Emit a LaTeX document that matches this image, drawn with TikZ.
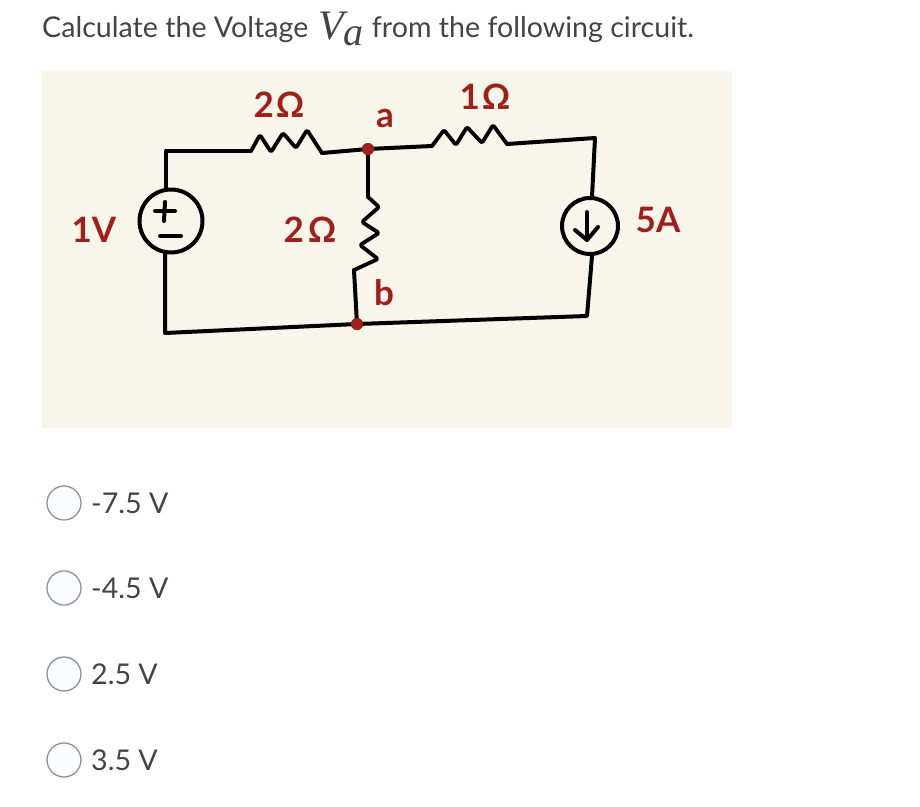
\documentclass[tikz,border=0pt]{standalone}
\usepackage{fontspec}
\setmainfont{Lato}
\newfontfamily\mathfont{Liberation Serif}[ItalicFont=Liberation Serif Italic]
\newfontfamily\handfont{Lato Bold}
\definecolor{paper}{HTML}{F8F6EA}
\definecolor{hand}{HTML}{A01F1A}
\definecolor{ink}{HTML}{444444}
\definecolor{radioline}{HTML}{8A9299}
\definecolor{radiofill}{HTML}{FBFCFF}
\tikzset{
    wire/.style={line width=4pt, line cap=round, line join=round},
    coil/.style={wire, line width=3.8pt, rounded corners=2pt},
    source/.style={circle, draw, line width=4pt, inner sep=0pt},
    junction/.style={circle, fill=hand, inner sep=0pt, minimum size=12pt},
    handtext/.style={text=hand, font=\handfont\fontsize{35}{35}\selectfont, inner sep=0pt},
    radio/.style={circle, draw=radioline, fill=radiofill, line width=1.3pt, inner sep=0pt, minimum size=34pt},
    answer/.style={text=ink, font=\fontsize{28.6}{28.6}\selectfont, inner sep=0pt, anchor=west}
}
\begin{document}
\begin{tikzpicture}[x=1pt, y=-1pt]
    \useasboundingbox (0, 0) rectangle (920, 806);
    \fill[paper] (42, 71) rectangle (732, 428);

    \node[anchor=base west, inner sep=0pt, text=ink, font=\fontsize{28.6}{28.6}\selectfont] (title) at (42, 37)
        {Calculate the Voltage\hspace{10pt}\raisebox{-2pt}{\mathfont\itshape\fontsize{42}{42}\selectfont V}\raisebox{-8pt}{\mathfont\itshape\fontsize{40}{40}\selectfont a}\hspace{8pt}from the following circuit.};

    \node[source, minimum size=63pt] (vs) at (171, 221) {};
    \node[source, minimum size=56pt] (cs) at (590, 226) {};
    \node[junction] (a) at (368, 149) {};
    \node[junction] (b) at (357, 324) {};

    \coordinate (tl) at (166, 151);
    \coordinate (bl) at (165, 333);
    \coordinate (tr) at (595, 138);
    \coordinate (br) at (587, 316);
    \coordinate (r1in) at (251, 151);
    \coordinate (r1out) at (322, 153);
    \coordinate (r2in) at (432, 146);
    \coordinate (r2out) at (507, 144);
    \coordinate (r3in) at (368, 197);
    \coordinate (r3out) at (354, 270);

    % wires
    \draw[wire] (tl |- vs.north) -- (tl) -- (r1in);
    \draw[wire] (r1out) -- (a.center) -- (r2in);
    \draw[wire] (r2out) -- (tr) -- (592, 197);
    \draw[wire] (592, 256) -- (br) -- (b.center) -- (bl) -- (bl |- vs.south);
    \draw[wire] (a.center) -- (r3in);
    \draw[wire] (r3out) -- (b.center);

    % resistors
    \draw[coil] (r1in) -- (260, 135) -- (271, 152) -- (283, 133) -- (296, 148) -- (307, 130) -- (r1out);
    \draw[coil] (r2in) -- (444, 130) -- (456, 145) -- (467, 127) -- (482, 143) -- (493, 125) -- (r2out);
    \draw[coil] (r3in) -- (379, 207) -- (362, 222) -- (379, 233) -- (360, 245) -- (378, 259) -- (r3out);

    % source marks
    \draw[wire] (155, 211) -- (175, 211);
    \draw[wire] (165, 202) -- (164, 221);
    \draw[wire] (160, 236) -- (181, 236);
    \draw[wire] (587, 212) -- (587, 240);
    \draw[wire] (575, 230) -- (587, 240) -- (598, 227);

    \node[junction] at (a) {};
    \node[junction] at (b) {};

    % labels
    \node[handtext] (r1label) at (279, 105) {2\hspace{2pt}Ω};
    \node[handtext] (r2label) at (485, 97) {1\hspace{2pt}Ω};
    \node[handtext] (r3label) at (310, 230) {2\hspace{4pt}Ω};
    \node[handtext] (alabel) at (385, 118) {a};
    \node[handtext] (blabel) at (384, 293) {b};
    \node[handtext] (vlabel) at (94, 230) {1V};
    \node[handtext] (ilabel) at (658, 220) {5A};

    % answers
    \foreach \y/\txt [count=\i] in {503/-7.5 V, 588/-4.5 V, 674/2.5 V, 760/3.5 V} {
        \node[radio] (radio\i) at (64, \y) {};
        \node[answer] (answer\i) at (91, \y) {\txt};
    }
\end{tikzpicture}
\end{document}
